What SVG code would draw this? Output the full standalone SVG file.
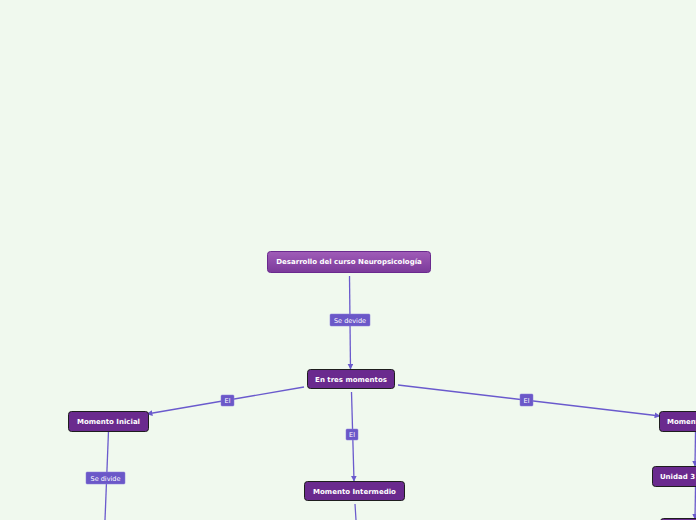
<svg xmlns="http://www.w3.org/2000/svg" width="696" height="520" viewBox="0 0 696 520">
<defs>
<linearGradient id="rootg" x1="0" y1="0" x2="0" y2="1">
<stop offset="0" stop-color="#a05cb8"/>
<stop offset="1" stop-color="#7b3a9a"/>
</linearGradient>
<marker id="arr" viewBox="0 0 10 10" refX="9" refY="5" markerWidth="6" markerHeight="6" orient="auto" markerUnits="userSpaceOnUse">
<path d="M0,0 L10,5 L0,10 z" fill="#6a5acd"/>
</marker>
</defs>
<style>
.node{fill:#6a2a8e;stroke:#1e1e1e;stroke-width:1}
.nt{fill:#ffffff;font-family:"DejaVu Sans",Verdana,sans-serif;font-weight:bold;font-size:7px;text-anchor:middle}
.edge{stroke:#6a5acd;stroke-width:1.3;fill:none}
.lb{fill:#6b58c8;stroke:#8a7ad8;stroke-width:0.5}
.lt{fill:#ffffff;font-family:"DejaVu Sans",Verdana,sans-serif;font-size:6.5px;text-anchor:middle}
</style>
<rect width="696" height="520" fill="#f0f9ee"/>
<g id="connectors">
<line class="edge" x1="349.5" y1="276" x2="350.5" y2="369" marker-end="url(#arr)"/>
<rect class="lb" x="330" y="314" width="40" height="12" rx="1"/>
<text class="lt" x="350" y="322.5">Se devide</text>
<line class="edge" x1="304" y1="387" x2="147" y2="414" marker-end="url(#arr)"/>
<rect class="lb" x="221" y="395" width="13" height="11" rx="1"/>
<text class="lt" x="227.5" y="403">El</text>
<line class="edge" x1="351.5" y1="392" x2="354" y2="481" marker-end="url(#arr)"/>
<rect class="lb" x="346" y="429" width="12" height="11" rx="1"/>
<text class="lt" x="352" y="437">El</text>
<line class="edge" x1="398" y1="385" x2="660" y2="416" marker-end="url(#arr)"/>
<rect class="lb" x="520" y="394" width="13" height="12" rx="1"/>
<text class="lt" x="526.5" y="402.5">El</text>
<line class="edge" x1="108.5" y1="431" x2="105" y2="520"/>
<rect class="lb" x="86" y="472" width="39" height="12" rx="1"/>
<text class="lt" x="105.5" y="480.5">Se divide</text>
<line class="edge" x1="355" y1="504" x2="356" y2="520"/>
<line class="edge" x1="695.5" y1="431" x2="695" y2="466" marker-end="url(#arr)"/>
<line class="edge" x1="695.5" y1="487" x2="695" y2="519" marker-end="url(#arr)"/>
</g>
<g id="root">
<rect x="267.5" y="251.5" width="163" height="21" rx="3" fill="url(#rootg)" stroke="#6a2a8e" stroke-width="1"/>
<text class="nt" x="349" y="264">Desarrollo del curso Neuropsicología</text>
</g>
<g id="tres">
<rect class="node" x="307.5" y="369.5" width="87" height="19" rx="3"/>
<text class="nt" x="351" y="381.5">En tres momentos</text>
</g>
<g id="inicial">
<rect class="node" x="68.5" y="411.5" width="80" height="20" rx="3"/>
<text class="nt" x="108.5" y="424">Momento Inicial</text>
</g>
<g id="intermedio">
<rect class="node" x="304.5" y="481.5" width="100" height="19" rx="3"/>
<text class="nt" x="354.5" y="493.5">Momento Intermedio</text>
</g>
<g id="final">
<rect class="node" x="659.5" y="411.5" width="60" height="20" rx="3"/>
<text class="nt" x="667" y="424" style="text-anchor:start">Momento</text>
</g>
<g id="unidad3">
<rect class="node" x="652.5" y="466.5" width="50" height="20" rx="3"/>
<text class="nt" x="677.5" y="479">Unidad 3</text>
</g>
<g id="next">
<rect class="node" x="660.5" y="518.5" width="60" height="20" rx="3"/>
</g>
</svg>
